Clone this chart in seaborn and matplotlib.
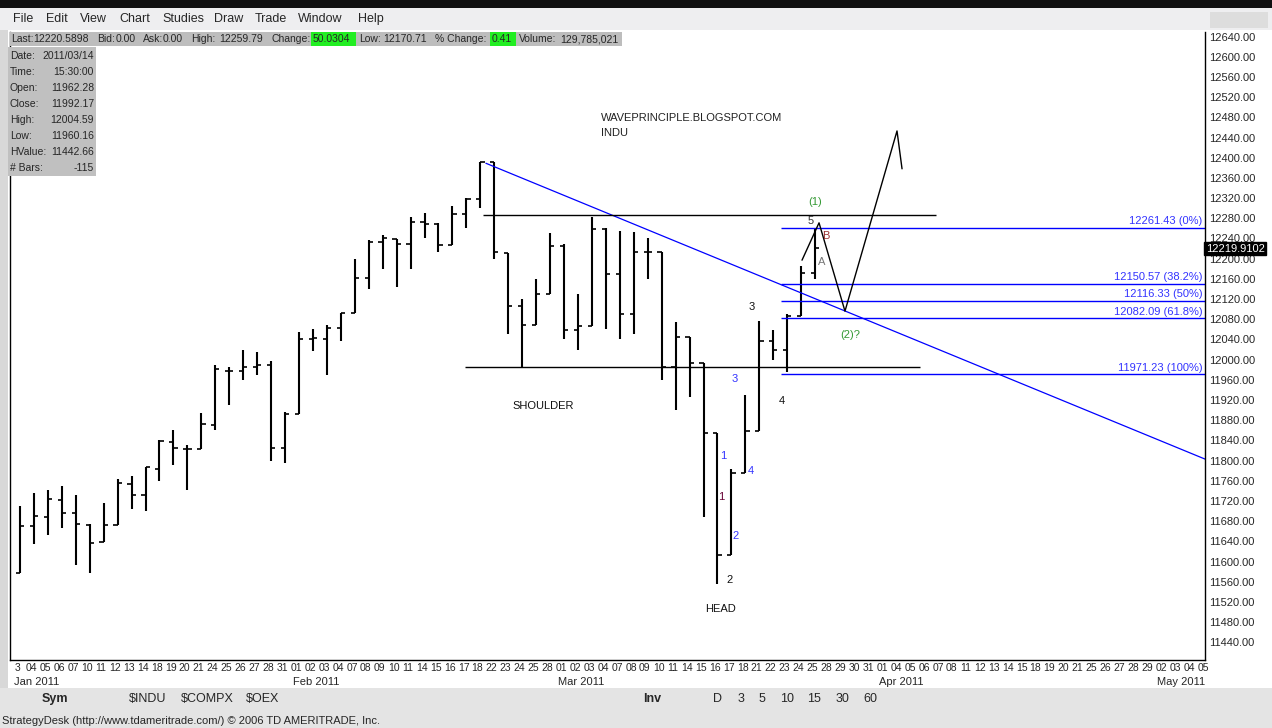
import matplotlib
matplotlib.use("Agg")
import matplotlib.pyplot as plt
import matplotlib.patches as mpatches
import seaborn as sns
import numpy as np
import pandas as pd

# trading days shown on the x axis (Jan 3 .. May 5, 2011)
day_labels = ["3", "04", "05", "06", "07", "10", "11", "12", "13", "14", "18", "19", "20", "21", "24", "25", "26", "27", "28", "31",
              "01", "02", "03", "04", "07", "08", "09", "10", "11", "14", "15", "16", "17", "18", "22", "23", "24", "25", "28",
              "01", "02", "03", "04", "07", "08", "09", "10", "11", "14", "15", "16", "17", "18", "21", "22", "23", "24", "25",
              "28", "29", "30", "31",
              "01", "04", "05", "06", "07", "08", "11", "12", "13", "14", "15", "18", "19", "20", "21", "25", "26", "27", "28", "29",
              "02", "03", "04", "05"]
month_names = ["Jan 2011", "Feb 2011", "Mar 2011", "Apr 2011", "May 2011"]
month_start = [0, 20, 39, 62, 82]

# daily OHLC of INDU (Jan 3 .. Mar 25)
opens = [11577, 11671, 11688, 11722, 11697, 11673, 11638, 11673, 11754, 11731, 11784, 11836, 11822, 11823, 11871, 11978, 11977, 11985, 11990, 11824,
         11892, 12040, 12041, 12062, 12092, 12161, 12233, 12239, 12229, 12273, 12268, 12227, 12288, 12318, 12391, 12212, 12106, 12069, 12130,
         12226, 12058, 12067, 12258, 12170, 12090, 12213, 12213, 11985, 12044, 11993, 11855, 11613, 11775, 11858, 12037, 12019, 12086, 12171]
highs = [11711, 11736, 11742, 11750, 11731, 11675, 11716, 11763, 11770, 11788, 11840, 11861, 11830, 11895, 11990, 11985, 12020, 12016, 11998, 11897,
         12054, 12060, 12068, 12092, 12200, 12237, 12247, 12239, 12283, 12290, 12270, 12305, 12320, 12391, 12391, 12212, 12120, 12160, 12250,
         12230, 12130, 12283, 12260, 12254, 12252, 12240, 12213, 12074, 12044, 11993, 11855, 11784, 11930, 12077, 12058, 12090, 12186, 12260]
lows = [11577, 11635, 11652, 11667, 11593, 11578, 11638, 11673, 11704, 11700, 11760, 11792, 11741, 11823, 11860, 11910, 11960, 11970, 11799, 11795,
        11892, 12017, 11970, 12036, 12092, 12140, 12180, 12143, 12180, 12240, 12213, 12227, 12260, 12300, 12200, 12050, 11983, 12068, 12130,
        12040, 12020, 12067, 12060, 12040, 12050, 12160, 11960, 11900, 11926, 11688, 11556, 11613, 11775, 11858, 12000, 11975, 12086, 12160]
closes = [11671, 11691, 11723, 11697, 11675, 11637, 11672, 11755, 11732, 11787, 11838, 11825, 11823, 11872, 11981, 11977, 11985, 11990, 11824, 11892,
          12040, 12042, 12062, 12092, 12162, 12233, 12240, 12229, 12273, 12268, 12227, 12288, 12318, 12391, 12213, 12106, 12069, 12130, 12226,
          12058, 12067, 12258, 12170, 12090, 12214, 12213, 11985, 12044, 11993, 11855, 11613, 11775, 11858, 12037, 12019, 12086, 12171, 12221]

fib_levels = [12261.43, 12150.57, 12116.33, 12082.09, 11971.23]
fib_labels = ["12261.43 (0%)", "12150.57 (38.2%)", "12116.33 (50%)", "12082.09 (61.8%)", "11971.23 (100%)"]
trend_x = [33.9, 85.45]
trend_y = [12389, 11803]
proj_x = [56.56, 57.78, 59.64, 63.37, 63.73]
proj_y = [12197, 12271, 12096, 12453, 12378]

sns.set_style("white")
plt.rcParams["font.family"] = ["Liberation Sans", "DejaVu Sans"]

W, H = 1272, 728
fig = plt.figure(figsize=(12.72, 7.28), dpi=100)
fig.patch.set_facecolor("white")


def px(x0, y0, x1, y1):
    return [x0 / W, 1 - y1 / H, (x1 - x0) / W, (y1 - y0) / H]


x_lo = (10 - 13) / 13.95
x_hi = (1205 - 13) / 13.95
ax = fig.add_axes(px(10, 32, 1205, 660))
ax.set_xlim(x_lo, x_hi)
ax.set_ylim(11405, 12649)

df = pd.DataFrame({"x": np.arange(len(closes)) + 0.5, "o": opens, "h": highs, "l": lows, "c": closes})
ax.vlines(df["x"], df["l"], df["h"], color="black", lw=1.5)
ax.hlines(df["o"], df["x"] - 0.3, df["x"], color="black", lw=1.2)
ax.hlines(df["c"], df["x"], df["x"] + 0.3, color="black", lw=1.2)

# trendline, horizontal levels, fibs, projected path
sns.lineplot(x=trend_x, y=trend_y, ax=ax, color="#0000ff", lw=0.9)
ax.hlines(12286, 33.7, 66.2, color="black", lw=1)
ax.hlines(11985, 32.4, 65.0, color="black", lw=1)
for lv, lb in zip(fib_levels, fib_labels):
    ax.hlines(lv, 55.05, x_hi, color="#0000ff", lw=1)
    ax.text(85.25, lv + 3, lb, color="#3333ff", fontsize=8, ha="right", va="bottom")
sns.lineplot(x=proj_x, y=proj_y, ax=ax, color="black", lw=1, sort=False)

notes = [
    ("WAVEPRINCIPLE.BLOGSPOT.COM", 42.15, 12478, "#222222", "left"),
    ("INDU", 42.15, 12448, "#222222", "left"),
    ("(1)", 57.5, 12312, "#339933", "center"),
    ("5", 57.2, 12274, "#333333", "center"),
    ("B", 58.3, 12245, "#993333", "center"),
    ("A", 58.0, 12193, "#777777", "center"),
    ("(2)?", 60.0, 12049, "#339933", "center"),
    ("3", 52.97, 12104, "#111111", "center"),
    ("4", 55.1, 11918, "#111111", "center"),
    ("3", 51.76, 11962, "#3333ff", "center"),
    ("1", 50.9, 11809, "#3333ff", "center"),
    ("1", 50.8, 11728, "#660033", "center"),
    ("4", 52.9, 11780, "#3333ff", "center"),
    ("2", 51.8, 11651, "#3333ff", "center"),
    ("2", 51.4, 11564, "#111111", "center"),
    ("HEAD", 50.75, 11506, "#111111", "center"),
    ("SHOULDER", 38.0, 11908, "#111111", "center"),
]
for t, x, y, c, ha in notes:
    ax.text(x, y, t, color=c, fontsize=8, ha=ha, va="center")

# axes look
yt = np.arange(11440, 12641, 40)
ax.yaxis.tick_right()
ax.set_yticks(yt)
ax.set_yticklabels(["%.2f" % v for v in yt], fontsize=8)
ax.tick_params(axis="y", length=0, pad=3)
ax.set_xticks(np.arange(len(day_labels)) + 0.3)
ax.set_xticklabels(day_labels, fontsize=7.5)
ax.tick_params(axis="x", length=0, pad=2)
ax.spines["top"].set_visible(False)
for s in ["left", "right", "bottom"]:
    ax.spines[s].set_color("black")
    ax.spines[s].set_linewidth(1)
for name, i in zip(month_names, month_start):
    last = name == "May 2011"
    ax.text(x_hi if last else i + 0.1, 11405 - 44, name, fontsize=8,
            ha="right" if last else "left", va="center")
ax.text(x_hi + 0.05, 12219.91, "12219.9102", fontsize=8, color="white", va="center", ha="left",
        bbox=dict(boxstyle="square,pad=0.15", fc="black", ec="black"), clip_on=False)


# window chrome
def box(x0, y0, x1, y1, fc, ec="none"):
    fig.patches.append(mpatches.Rectangle((x0 / W, 1 - y1 / H), (x1 - x0) / W, (y1 - y0) / H,
                                          transform=fig.transFigure, fc=fc, ec=ec, lw=0.8, zorder=5))


def ftext(x, y, s, **kw):
    kw.setdefault("fontsize", 8)
    fig.text(x / W, 1 - y / H, s, va="center", zorder=6, **kw)


box(0, 0, W, 8, "#111111")
box(0, 8, W, 30, "#eeeef0")
menu = [("File", 13), ("Edit", 46), ("View", 80), ("Chart", 119), ("Studies", 162), ("Draw", 214), ("Trade", 255), ("Window", 298), ("Help", 358)]
for t, x in menu:
    ftext(x, 19, t, fontsize=9)
box(1210, 12, 1268, 28, "#dddddd")
box(0, 30, 8, 728, "#d8d8d8")

# status line: key, key x, value, value x
box(10, 32, 622, 46, "#bdbdbd")
box(311, 32, 356, 46, "#22ee22")
box(490, 32, 516, 46, "#22ee22")
status = [("Last:", 11, "12220.5898", 33), ("Bid:", 97, "0.00", 116), ("Ask:", 143, "0.00", 163),
          ("High:", 191, "12259.79", 219), ("Change:", 271, "50.0304", 313), ("Low:", 359, "12170.71", 383),
          ("% Change:", 435, "0.41", 492), ("Volume:", 519, "129,785,021", 560)]
for k, kx, v, vx in status:
    ftext(kx, 39, k, fontsize=7.5)
    ftext(vx, 39, v, fontsize=7.5)

box(8, 47, 96, 176, "#c0c0c0")
info = [("Date:", "2011/03/14"), ("Time:", "15:30:00"), ("Open:", "11962.28"), ("Close:", "11992.17"),
        ("High:", "12004.59"), ("Low:", "11960.16"), ("HValue:", "11442.66"), ("# Bars:", "-115")]
for j, (k, v) in enumerate(info):
    y = 56 + j * 16
    ftext(10, y, k, fontsize=7.5)
    ftext(94, y, v, ha="right", fontsize=7.5)

box(0, 688, W, 728, "#e4e4e4")
tabs = [("Sym", 55), ("$INDU", 148), ("$COMPX", 207), ("$OEX", 263), ("Inv", 652),
        ("D", 718), ("3", 741), ("5", 762), ("10", 787), ("15", 814), ("30", 842), ("60", 870)]
for t, x in tabs:
    ftext(x, 699, t, fontsize=9, ha="center", fontweight="bold" if t in ("Sym", "Inv") else "normal")
ftext(2, 721, "StrategyDesk (http://www.tdameritrade.com/) \u00a9 2006 TD AMERITRADE, Inc.", fontsize=8)

fig.savefig("out.png", dpi=100)
